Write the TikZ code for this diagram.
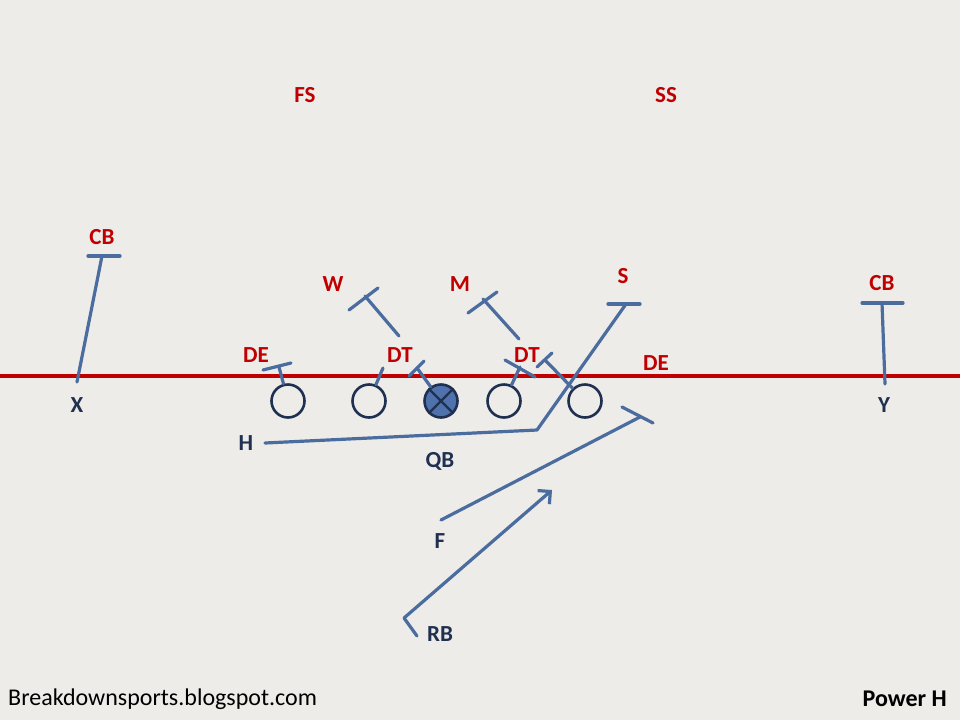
\documentclass[tikz,border=0pt]{standalone}
\usepackage{xcolor}
\usepackage{fontspec}
\setmainfont{Carlito}
\usepackage{tikz}
\usetikzlibrary{arrows.meta, positioning, calc}

\definecolor{fieldbg}{RGB}{238,236,233}
\definecolor{defred}{RGB}{192,0,0}
\definecolor{routeblue}{RGB}{74,108,158}
\definecolor{offnavy}{RGB}{31,48,80}
\definecolor{centerfill}{RGB}{79,114,172}

\begin{document}
\begin{tikzpicture}[x=1pt, y=-1pt]
			\tikzstyle{defense}=[text=defred, font=\fontsize{23}{27}\selectfont\bfseries, inner sep=0pt]
			\tikzstyle{offense}=[text=offnavy, font=\fontsize{23}{27}\selectfont\bfseries, inner sep=0pt]
			\tikzstyle{player}=[circle, draw=offnavy, line width=2.6, minimum size=33, inner sep=0pt]
			\tikzstyle{route}=[routeblue, line width=3.2, line cap=round]
			
			\fill [fieldbg] (0,0) rectangle (960,720);
			\useasboundingbox (0,0) rectangle (960,720);
			
			%% line of scrimmage
			\coordinate (los0) at (0,376);
			\coordinate (los1) at (960,376);
			\draw [defred, line width=3.5] (los0) -- (los1);
			
			%% offensive line
			\node (o1) at (288,401) [player] {};
			\node (o2) at (369,401) [player] {};
			\node (oc) at (441,401) [player, fill=centerfill] {};
			\node (o3) at (504,401) [player] {};
			\node (o4) at (585,401) [player] {};
			\draw [offnavy, line width=2.4] (oc.north west) -- (oc.south east);
			\draw [offnavy, line width=2.4] (oc.north east) -- (oc.south west);
			
			%% defense
			\node (fs) at (305,95) [defense] {FS};
			\node (ss) at (666,95) [defense] {SS};
			\node (cbl) at (102,237) [defense] {CB};
			\node (wl) at (333,284) [defense] {W};
			\node (ml) at (460,284) [defense] {M};
			\node (sl) at (623,276) [defense] {S};
			\node (cbr) at (882,283) [defense] {CB};
			\node (del) at (256,355) [defense] {DE};
			\node (dtl) at (400,355) [defense] {DT};
			\node (dtr) at (527,355) [defense] {DT};
			\node (der) at (656,363) [defense] {DE};
			
			%% offense
			\node (x) at (77,405) [offense] {X};
			\node (y) at (884,405) [offense] {Y};
			\node (h) at (246,443) [offense] {H};
			\node (qb) at (440,461) [offense] {QB};
			\node (f) at (440,541) [offense] {F};
			\node (rb) at (440,634) [offense] {RB};
			
			%% blocks
			\coordinate (b1) at (279,367);
			\coordinate (b1a) at (263,370);
			\coordinate (b1b) at (291,363);
			\draw [route] (o1) -- (b1);
			\draw [route] (b1a) -- (b1b);
			
			\coordinate (b2) at (383,368);
			\draw [route] (o2) -- (b2);
			
			\coordinate (bc) at (417,368);
			\coordinate (bca) at (409,376);
			\coordinate (bcb) at (424,361);
			\draw [route] (oc) -- (bc);
			\draw [route] (bca) -- (bcb);
			
			\coordinate (b3) at (520,367);
			\coordinate (b3a) at (505,360);
			\coordinate (b3b) at (535,377);
			\draw [route] (o3) -- (b3);
			\draw [route] (b3a) -- (b3b);
			
			\coordinate (b4) at (545,360);
			\coordinate (b4a) at (537,367);
			\coordinate (b4b) at (552,353);
			\draw [route] (o4) -- (b4);
			\draw [route] (b4a) -- (b4b);
			
			\coordinate (w0) at (399,336);
			\coordinate (w1) at (365,296);
			\coordinate (w1a) at (349,310);
			\coordinate (w1b) at (378,288);
			\draw [route] (w0) -- (w1);
			\draw [route] (w1a) -- (w1b);
			
			\coordinate (m0) at (519,339);
			\coordinate (m1) at (483,299);
			\coordinate (m1a) at (468,313);
			\coordinate (m1b) at (497,292);
			\draw [route] (m0) -- (m1);
			\draw [route] (m1a) -- (m1b);
			
			%% H arc block on S
			\coordinate (h0) at (265,443);
			\coordinate (h1) at (537,430);
			\coordinate (h2) at (626,304);
			\coordinate (h2a) at (608,304);
			\coordinate (h2b) at (640,304);
			\draw [route, line join=round] (h0) -- (h1) -- (h2);
			\draw [route] (h2a) -- (h2b);
			
			%% F kicks out DE
			\coordinate (f0) at (441,520);
			\coordinate (f1) at (640,417);
			\coordinate (f1a) at (622,407);
			\coordinate (f1b) at (653,423);
			\draw [route] (f0) -- (f1);
			\draw [route] (f1a) -- (f1b);
			
			%% RB
			\coordinate (rb0) at (417,636);
			\coordinate (rb1) at (404,618);
			\coordinate (rb2) at (552,490);
			\draw [route, line join=round, -{Straight Barb[length=9, width=18, line width=3.2]}] (rb0) -- (rb1) -- (rb2);
			
			%% receivers
			\coordinate (xr0) at (77,382);
			\coordinate (xr1) at (102,256);
			\coordinate (xr1a) at (88,256);
			\coordinate (xr1b) at (120,256);
			\draw [route] (xr0) -- (xr1);
			\draw [route] (xr1a) -- (xr1b);
			
			\coordinate (yr0) at (885,384);
			\coordinate (yr1) at (882,303);
			\coordinate (yr1a) at (862,303);
			\coordinate (yr1b) at (903,303);
			\draw [route] (yr0) -- (yr1);
			\draw [route] (yr1a) -- (yr1b);
			
			%% footer
			\node (site) at (8,699) [anchor=west, inner sep=0pt, font=\fontsize{24}{28}\selectfont] {Breakdownsports.blogspot.com};
			\node (play) at (947,699) [anchor=east, inner sep=0pt, font=\fontsize{24}{28}\selectfont\bfseries] {Power H};
			\end{tikzpicture}
\end{document}
